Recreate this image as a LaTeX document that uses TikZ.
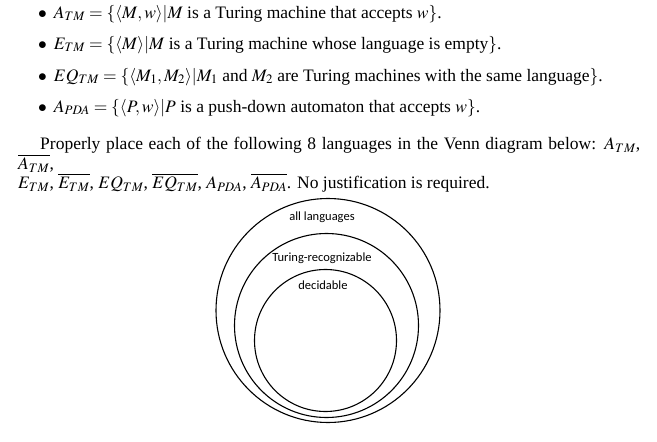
\documentclass[tikz,border=0pt]{standalone}
\usepackage{mathptmx}
\usepackage{fontspec}
\setmainfont{Liberation Serif}
\newfontfamily\carlitofont{Carlito}
\begin{document}
\begin{tikzpicture}[x=1pt,y=-1pt,
  txt/.style={anchor=west,inner sep=0pt,font=\fontsize{17.5}{19}\selectfont},
  lab/.style={inner sep=0pt,font=\carlitofont\fontsize{12.5}{14}\selectfont},
  ring/.style={draw,line width=1.1pt}]
\useasboundingbox (0,0) rectangle (657,442);
\node[txt] (b1) at (38,14) {$\bullet$\hspace{7pt}$A_{TM}=\{\langle M,w\rangle | M$ is a Turing machine that accepts $w\}$.};
\node[txt] (b2) at (38,45) {$\bullet$\hspace{7pt}$E_{TM}=\{\langle M\rangle | M$ is a Turing machine whose language is empty$\}$.};
\node[txt] (b3) at (38,77) {$\bullet$\hspace{7pt}$EQ_{TM}=\{\langle M_1,M_2\rangle | M_1$ and $M_2$ are Turing machines with the same language$\}$.};
\node[txt] (b4) at (38,108) {$\bullet$\hspace{7pt}$A_{PDA}=\{\langle P,w\rangle | P$ is a push-down automaton that accepts $w\}$.};
\node[txt,anchor=north west,text width=622pt,align=justify] (p) at (18,137)
 {\hspace*{22pt}Properly place each of the following 8 languages in the Venn diagram below: $A_{TM}$, $\overline{A_{TM}}$,\linebreak
 $E_{TM}$, $\overline{E_{TM}}$, $EQ_{TM}$, $\overline{EQ_{TM}}$, $A_{PDA}$, $\overline{A_{PDA}}$. No justification is required.};
\node[ring,circle,minimum size=224pt] (all) at (328,310.5) {};
\node[ring,circle,minimum size=184pt] (tr) at (326.5,325.5) {};
\node[ring,circle,minimum size=142pt] (dec) at (325.5,340.5) {};
\node[lab] (l1) at (322,217) {all languages};
\node[lab] (l2) at (322,258) {Turing-recognizable};
\node[lab] (l3) at (323,285) {decidable};
\end{tikzpicture}
\end{document}
